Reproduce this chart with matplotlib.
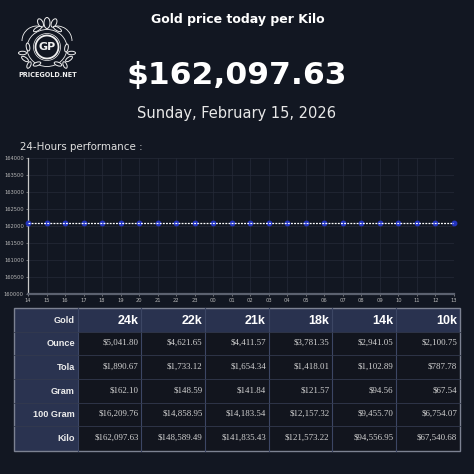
import numpy as np
import matplotlib
matplotlib.use("Agg")
import matplotlib.pyplot as plt
from matplotlib.patches import Arc, Circle, Ellipse, Rectangle

hours = ["14", "15", "16", "17", "18", "19", "20", "21", "22", "23", "00", "01",
         "02", "03", "04", "05", "06", "07", "08", "09", "10", "11", "12", "13"]
prices = [162097.63] * 24
y_ticks = [160000, 160500, 161000, 161500, 162000, 162500, 163000, 163500, 164000]

karats = ["24k", "22k", "21k", "18k", "14k", "10k"]
units = ["Ounce", "Tola", "Gram", "100 Gram", "Kilo"]
ounce = ["$5,041.80", "$4,621.65", "$4,411.57", "$3,781.35", "$2,941.05", "$2,100.75"]
tola = ["$1,890.67", "$1,733.12", "$1,654.34", "$1,418.01", "$1,102.89", "$787.78"]
gram = ["$162.10", "$148.59", "$141.84", "$121.57", "$94.56", "$67.54"]
gram100 = ["$16,209.76", "$14,858.95", "$14,183.54", "$12,157.32", "$9,455.70", "$6,754.07"]
kilo = ["$162,097.63", "$148,589.49", "$141,835.43", "$121,573.22", "$94,556.95", "$67,540.68"]
rows = [ounce, tola, gram, gram100, kilo]

BG = "#121722"
W = 474

fig = plt.figure(figsize=(W / 100, W / 100), dpi=100, facecolor=BG)

# overlay in pixel coordinates, y pointing down
page = fig.add_axes([0, 0, 1, 1])
page.set_xlim(0, W)
page.set_ylim(W, 0)
page.axis("off")

page.text(237.5, 19.5, "Gold price today per Kilo", color="white", fontsize=9.0,
          fontweight="bold", ha="center", va="center")
page.text(237, 75, "$162,097.63", color="white", fontsize=22.6,
          fontweight="bold", ha="center", va="center")
page.text(236.5, 113, "Sunday, February 15, 2026", color="#e8e8e8", fontsize=10.5,
          ha="center", va="center")
page.text(20, 146.5, "24-Hours performance :", color="#e0e0e0", fontsize=7.4,
          ha="left", va="center")


def draw_logo(ax, cx, cy):
    lc = "#f0f0f0"
    ax.add_patch(Circle((cx, cy), 11.5, fc="none", ec=lc, lw=1.3))
    ax.add_patch(Circle((cx, cy), 13.5, fc="none", ec=lc, lw=0.5))
    ax.text(cx, cy + 0.3, "GP", color=lc, fontsize=8, fontweight="bold",
            ha="center", va="center")
    # curved vines around the ring
    ax.add_patch(Ellipse((cx, cy + 1), 40, 37, fc="none", ec=lc, lw=0.6))
    ax.add_patch(Arc((cx - 10, cy - 6), 30, 30, theta1=180, theta2=290, ec=lc, lw=0.6))
    ax.add_patch(Arc((cx + 10, cy - 6), 30, 30, theta1=250, theta2=360, ec=lc, lw=0.6))
    # leaves, offset from the logo centre
    leaves = [(0, -24, 6, 11, 0), (-6.5, -24, 5, 9, -25), (7, -24, 5, 9, 25),
              (-9.5, -18, 9, 3.5, -30), (10.5, -18, 9, 3.5, 30),
              (-24.5, 6, 8, 3.5, 0), (24.5, 6, 8, 3.5, 0),
              (-19, 0, 3.5, 8, -10), (19.5, 1, 3.5, 8, 10),
              (-22, 12, 8, 3.5, 35), (22, 12, 8, 3.5, -35),
              (-18, 18, 3.5, 7, 25), (18, 18, 3.5, 7, -25),
              (-10, 17, 8, 3.5, -20), (11, 17, 8, 3.5, 20)]
    for dx, dy, w, h, ang in leaves:
        ax.add_patch(Ellipse((cx + dx, cy + dy), w, h, angle=ang, fc=BG, ec=lc, lw=0.7, zorder=3))
    ax.text(cx + 0.5, cy + 28, "PRICEGOLD.NET", color=lc, fontsize=4.7, fontweight="bold",
            ha="center", va="center")


draw_logo(page, 47, 47)

# price chart
ax = fig.add_axes([28 / W, 1 - 294 / W, (454 - 28) / W, (294 - 158) / W], facecolor=BG)
x = np.arange(len(hours))
ax.plot(x, prices, color="#2233c0", lw=0, marker="o", ms=3.2, zorder=3, clip_on=False)
ax.plot(x, prices, color="white", lw=0.9, ls=(0, (1.5, 1)), zorder=4)
ax.set_xlim(0, len(hours) - 1)
ax.set_ylim(160000, 164000)
ax.set_xticks(x)
ax.set_xticklabels(hours)
ax.set_yticks(y_ticks)
ax.grid(True, color="#252b38", lw=0.5)
ax.tick_params(axis="both", colors="#b8b8b8", labelsize=3.7, length=1.5, width=0.4, pad=1.5)
for side in ["top", "right"]:
    ax.spines[side].set_visible(False)
ax.spines["left"].set_color("#c8c8c8")
ax.spines["left"].set_linewidth(0.9)
ax.spines["left"].set_linestyle((0, (1, 1)))
ax.spines["bottom"].set_color("#5c6270")
ax.spines["bottom"].set_linewidth(1.6)

# price table
col_x = [14, 78, 141.5, 205.5, 269, 332.5, 396.5, 460]
row_y = [308, 332, 355, 379, 403, 426, 451]
HEAD = "#29324f"
SIDE = "#2a3350"
CELL = "#12151e"
EDGE = "#333a4e"

page.add_patch(Rectangle((col_x[0], row_y[0]), col_x[-1] - col_x[0], row_y[1] - row_y[0],
                         fc=HEAD, ec="none"))
page.add_patch(Rectangle((col_x[0], row_y[0]), col_x[1] - col_x[0], row_y[-1] - row_y[0],
                         fc=SIDE, ec="none"))
page.add_patch(Rectangle((col_x[1], row_y[1]), col_x[-1] - col_x[1], row_y[-1] - row_y[1],
                         fc=CELL, ec="none"))
for cx in col_x[1:-1]:
    page.plot([cx, cx], [row_y[0], row_y[-1]], color="#3c4664", lw=0.8)
for ry in row_y[1:-1]:
    page.plot([col_x[0], col_x[-1]], [ry, ry], color=EDGE, lw=0.6)
page.add_patch(Rectangle((col_x[0], row_y[0]), col_x[-1] - col_x[0], row_y[-1] - row_y[0],
                         fc="none", ec="#7c8292", lw=1.0))

sans = "Liberation Sans"
serif = "Liberation Serif"
page.text(col_x[1] - 3, (row_y[0] + row_y[1]) / 2 + 0.5, "Gold", color="#ececec", fontsize=6.6,
          family=sans, fontweight="bold", ha="right", va="center")
for j, k in enumerate(karats):
    page.text(col_x[j + 2] - 3, (row_y[0] + row_y[1]) / 2 + 0.5, k, color="white", fontsize=9,
              family=sans, fontweight="bold", ha="right", va="center")
for i, unit in enumerate(units):
    yc = (row_y[i + 1] + row_y[i + 2]) / 2
    page.text(col_x[1] - 3, yc, unit, color="#ececec", fontsize=6.6, family=sans,
              fontweight="bold", ha="right", va="center")
    for j, val in enumerate(rows[i]):
        page.text(col_x[j + 2] - 3, yc - 0.5, val, color="#d2d2d2", fontsize=6.4, family=serif,
                  ha="right", va="center")

fig.savefig("out.png", dpi=100, facecolor=BG)
